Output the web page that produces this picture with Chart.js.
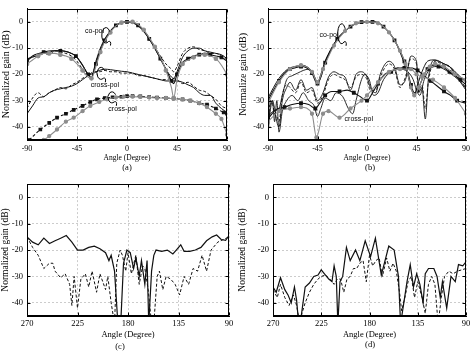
<!DOCTYPE html>
<html><head><meta charset="utf-8">
<script src="https://cdn.jsdelivr.net/npm/chart.js@4/dist/chart.umd.min.js"></script>
<style>
html,body{margin:0;padding:0;background:#fff;width:474px;height:351px;overflow:hidden}
canvas{position:absolute}
</style></head><body>
<canvas id="ca" width="237" height="175" style="left:0;top:0"></canvas>
<canvas id="cb" width="237" height="175" style="left:237px;top:0"></canvas>
<canvas id="cc" width="237" height="176" style="left:0;top:175px"></canvas>
<canvas id="cd" width="237" height="176" style="left:237px;top:175px"></canvas>
<script>
// ---------- tick labels ----------
const ticksAB = [-90, -45, 0, 45, 90];
const ticksCD = [270, 225, 180, 135, 90];
const ticksY = [-40, -30, -20, -10, 0];

// ---------- panel (a) ----------
const aCoSolidX = [-90,-85,-80,-75,-70,-65,-60,-55,-50,-45,-40,-35,-32,-28,-24,-20,-15,-10,-5,0,5,10,15,20,25,30,35,40,42,45,50,55,60,65,70,75,80,85,90];
const aCoSolidY = [-14,-13.5,-12.5,-12,-11.5,-11,-11,-11.3,-12,-13.5,-16.5,-20,-21,-15,-10,-6.5,-3.5,-1.5,-0.3,0,-0.3,-1.5,-3.5,-6.5,-10,-14,-18,-21,-21.5,-19,-13.5,-11,-10,-10,-11,-11.5,-12,-12.5,-14];
const aCoDashY  = [-16,-13,-13.5,-12,-12.5,-11,-11.5,-12,-13,-15,-18,-20.5,-21,-15.5,-10.5,-7,-3.8,-1.6,-0.3,0,-0.2,-1.2,-3.2,-6,-9.5,-13,-16,-18,-19,-17,-12,-10,-9.5,-10.5,-11,-12,-12,-13,-14.5];
const aCoCirY   = [-16,-14.5,-13,-12,-12,-12,-12.5,-13,-14,-16,-18.5,-21,-21.5,-17,-11.5,-7.5,-4,-1.5,-0.3,0,0,-1,-3,-6,-9.5,-13.5,-18.5,-25,-29,-22,-16,-14.5,-13.5,-12.5,-12.5,-13,-14,-16.5,-20];
const aCoSqX = [-90,-83,-75,-68,-60,-53,-46,-40,-35,-32,-28,-24,-20,-15,-10,-5,0,5,10,15,20,25,30,35,40,42,45,50,55,60,65,70,75,80,85,90];
const aCoSqY = [-14.5,-12.5,-11.5,-11,-11,-11.5,-13,-16.5,-20,-21,-16,-11,-7,-3.5,-1.3,-0.3,0,-0.3,-1.3,-3.5,-6.5,-10,-14,-18,-22.5,-23.5,-20,-15.5,-14,-13,-12.5,-12,-12.5,-13,-13.5,-15];
const aXpolX = [-90,-85,-80,-75,-70,-65,-60,-55,-50,-45,-40,-35,-30,-25,-20,-15,-10,-5,0,5,10,15,20,25,30,35,40,45,50,55,60,65,70,75,80,85,90];
const aXSolidY = [-35,-32,-29,-28.5,-27,-26,-25.5,-25,-24.5,-23.5,-22,-20.5,-19.5,-18.5,-18,-18.2,-18.5,-18.8,-19,-19.5,-20,-20.5,-21,-21.5,-22,-22.5,-22.5,-22.5,-23,-24,-25,-27,-28,-28,-31,-33,-34.5];
const aXDashY  = [-33,-29,-27,-28.5,-27,-26,-25,-25.5,-24,-23,-21.5,-20.5,-19,-19,-18.5,-19,-19,-19.5,-19.5,-19.5,-20.5,-20.5,-21,-21.5,-22,-22,-21.5,-22,-23.5,-23,-24.5,-26,-26.5,-28,-29.5,-32,-33];
const aXSqX = [-88,-78,-70,-63,-55,-48,-40,-33,-27,-20,-13,-5,0,5,12,20,27,35,42,50,57,65,72,80,87,90];
const aXSqY = [-45,-41,-38.5,-36.5,-35,-33.5,-32,-30.5,-29.5,-29,-28.7,-28.5,-28.3,-28.3,-28.4,-28.6,-28.8,-29,-29.2,-29.5,-30,-31,-31.5,-33,-34.5,-35];
const aXCirX = [-75,-70,-63,-55,-48,-40,-33,-25,-18,-10,-3,5,12,20,27,35,42,50,57,65,72,80,85,90];
const aXCirY = [-45,-43.5,-41,-38,-36.5,-34,-32,-30.5,-29.5,-28.8,-28.5,-28.5,-28.6,-28.8,-29,-29,-29.3,-29.5,-30,-31,-32.5,-35,-37,-43];

// ---------- panel (b) ----------
const bCoX = [-90,-85,-80,-75,-70,-65,-60,-55,-50,-47,-45,-42,-38,-33,-27,-20,-15,-10,-5,0,5,10,15,20,25,30,34,37,40,43,46,50,55,60,65,70,75,80,85,90];
const bCoSqY    = [-30,-26,-22.5,-19.5,-18,-17.5,-17,-17.5,-19.5,-22.5,-23.5,-21,-15.5,-11,-6.5,-3.5,-1.8,-0.7,-0.1,0,0,-0.3,-1.8,-4,-7,-11,-15,-19,-24,-27,-26,-22,-18,-16.5,-17,-17.5,-19,-20.5,-22,-24];
const bCoSolidY = [-29,-25,-21.5,-19,-17.5,-17,-16.5,-17,-19,-22,-23,-20,-15,-10.5,-6.5,-3.5,-1.8,-0.6,-0.1,0,0,-0.3,-1.8,-4,-7,-11.5,-16,-20,-25,-28,-24,-19,-15,-14.5,-15,-16,-17,-19,-21,-23];
const bCoCirX = [-90,-80,-70,-60,-50,-45,-40,-30,-20,-10,0,10,20,30,35,40,43,47,52,57,62,70,80,90];
const bCoCirY = [-31,-23,-18,-16.5,-19,-23,-18,-9,-3.5,-0.5,0,-0.5,-4,-11,-16,-25,-28,-25,-20,-17,-16,-17,-20,-22];
const bCo2X = [-90,-85,-80,-77,-73,-68,-63,-58,-53,-50,-47,-45,-42,-38,-33];
const bCo2Y = [-36,-34,-33,-28,-22,-20.5,-19.5,-18.5,-18,-19,-21.5,-23.5,-21,-15,-11];
const bXOscX = [-90,-88,-86,-84,-82,-80,-77,-73,-70,-65,-60,-55,-50,-45,-40,-35,-30,-25,-20,-15,-10,-5,0,3,8,12,20,25,30,35,40,45,47,50,53,56,62,70,75,80,90];
const bXOscY = [-44,-32,-30,-33,-38,-40,-30,-25,-23,-26,-22,-26,-25,-30,-27,-21,-19,-20,-21,-26,-20,-19,-21,-25,-27,-20,-15,-17,-24,-22,-13,-15,-27,-25,-37,-21,-14.5,-16,-17,-20,-26];
const bXDashY = [-42,-30,-31,-35,-36,-38,-28,-24,-25,-27,-23,-27,-26,-31,-28,-22,-20,-21,-22,-25,-21,-20,-22,-26,-26,-21,-16,-18,-25,-21,-14,-16,-26,-24,-33,-22,-15,-16.5,-17,-19,-25.5];
const bXSqX = [-90,-83,-75,-68,-60,-53,-47,-43,-38,-32,-25,-18,-12,-6,0,5,10,16,22,28,34,40,46,52,58,64,70,76,82,90];
const bXSqY = [-37,-33.5,-32.5,-31.5,-31,-31.5,-33,-31,-28,-26.5,-26.5,-26,-27,-28.5,-30,-27,-23.5,-20,-19,-17.5,-17.5,-17.5,-18.5,-20.5,-22.5,-24.5,-26.5,-28,-30,-31];
const bXCirX = [-90,-80,-70,-60,-50,-46,-40,-35,-25,-15,-5,0,10,20,30,40,45,50,60,70,80,90];
const bXCirY = [-38,-34,-33,-32.5,-35,-44,-35,-34,-36.5,-33,-30,-28,-23,-19,-18,-18,-20,-21,-22,-25,-29,-35];
const bXMidX = [-90,-88,-86,-84,-82,-80,-77,-73,-68,-63,-58,-53,-48,-45,-42,-38,-33,-28,-22,-17,-13,-10,-5,-2,2,6,10,15,22,30,37,42,45,48,52,57,63,70,77,83,90];
const bXMidY = [-41,-34,-30,-38,-30,-42,-34,-30,-28,-30,-27,-30,-32,-36,-33,-29,-30,-27,-28.5,-33,-35,-30,-22,-20,-22,-28,-27,-22,-19,-18,-19,-22,-26,-28,-22,-18,-17,-18,-20,-22,-25];

// ---------- panel (c) ----------
const cSolidX = [270,265,260,255,250,245,240,235,230,225,220,215,210,205,200,197,195,192,189,186.5,184,181,178,175,173,170,168,165,163,161.5,159,157,155,150,145,140,137,133,130,125,120,115,110,105,101,97,93,90];
const cSolidY = [-15,-17,-18,-15.5,-17.5,-16.5,-15.5,-14.5,-17,-20,-20,-19,-18.5,-19.5,-21,-24,-22,-28,-48,-48,-25,-20,-21,-27,-23,-30,-24,-33,-24,-48,-28,-22,-20,-20.5,-20,-21.5,-20,-18,-20.5,-20.5,-20,-19,-16.5,-15,-14.3,-16,-16.3,-14.5];
const cDashX = [270,265,260,255,250,247,245,240,236,232,230,228,225,222,218,215,212,208,205,200,198,195,192,190,187,185,182,180,177,173,170,167,165,162,159,157,154,152,149,146,142,138,134,130,126,122,118,114,110,106,100,95,90];
const cDashY = [-15,-19,-22,-27,-25,-25,-28,-30.5,-29,-33,-41,-30,-42,-31,-29,-34,-28,-36,-29,-35,-30,-40,-48,-25,-20,-22,-28,-21,-29,-22,-33,-26,-27,-35,-48,-48,-30,-28,-35,-30,-31,-33,-37,-30,-33,-27,-28,-22,-28,-20,-17,-16,-15];

// ---------- panel (d) ----------
const dSolidX = [270,267,263,259,256,253,250,248,246,244,240,236,232,228,225,222,218,215,213,211,209.5,207.5,205,201.5,198,193,189,184,179,174.5,169,162,157,153,151,148,145,142,139,136,133,130,128,125,120,117,114,112,108,104,100,97,93,90];
const dSolidY = [-34,-36,-30.5,-35,-37,-40,-34,-39,-48,-46,-34,-32.5,-30,-29.5,-27.5,-29,-31,-32,-26,-30,-48,-32,-30,-19,-24,-20,-24,-16.5,-22.5,-15.5,-29.5,-18.5,-20,-30,-48,-40,-32,-25.5,-34,-29,-33,-40,-29,-27,-27,-30,-38,-32,-42,-30,-32,-25.5,-26,-24.5];
const dDashX = [270,266,263,259,255,251,248,245,243,240,236,232,228,225,221,217,213,210,207,204,201,198,195,192,189,186,183,180,177,174,171,168,164,161,158,155,152,150,147,144,141,138,135,131,128,125,122,119,116,113,110,106,102,98,94,90];
const dDashY = [-35,-38,-33,-38,-41,-37,-41,-48,-44,-40,-36,-33,-31,-30,-29.5,-31,-33,-31,-31,-36,-31,-30,-27,-27,-25,-24,-32,-22,-26,-24,-23,-30,-23,-28,-25,-28,-36,-43,-38,-32,-30,-38,-32,-38,-44,-33,-30,-33,-48,-38,-30,-28,-29,-28,-27.5,-27];

// ---------- styling ----------
const BLACK = '#111';
const GRAY = '#8c8c8c';
const GRID = '#cccccc';
const SERIF = "'Liberation Serif', 'Times New Roman', serif";
const SANS = "'Liberation Sans', Arial, sans-serif";

function line(xs, ys, o) {
  return Object.assign({
    data: xs.map((x, i) => ({x: x, y: ys[i]})),
    showLine: true, borderColor: BLACK, backgroundColor: BLACK, borderWidth: 1,
    pointRadius: 0, fill: false, cubicInterpolationMode: 'monotone'
  }, o || {});
}
const everyOther = r => (c => (c.dataIndex % 2 === 0 ? r : 0));
const grayCirc = {borderColor: GRAY, backgroundColor: GRAY, pointRadius: everyOther(1.8), pointStyle: 'circle', pointBorderColor: GRAY, pointBackgroundColor: GRAY, borderWidth: 1.1};
const grayCircAll = Object.assign({}, grayCirc, {pointRadius: 1.6});
const blackSq = {pointRadius: everyOther(1.9), pointStyle: 'rect', pointBackgroundColor: BLACK, pointBorderColor: BLACK, borderWidth: 1.1};
const blackSqAll = Object.assign({}, blackSq, {pointRadius: 1.8});
const dashed = {borderDash: [3, 2]};

const framePlugin = {
  id: 'frame',
  afterDraw(chart, args, o) {
    const ctx = chart.ctx, a = chart.chartArea, xs = chart.scales.x, ys = chart.scales.y;
    ctx.save();
    ctx.strokeStyle = '#000';
    ctx.lineWidth = 1;
    const L = Math.round(a.left) + 0.5, T = Math.round(a.top) + 0.5, R = Math.round(a.right) - 0.5, B = Math.round(a.bottom) - 0.5;
    ctx.strokeRect(L, T, R - L, B - T);
    ctx.beginPath();
    xs.ticks.forEach(t => {
      const px = Math.round(xs.getPixelForValue(t.value)) + 0.5;
      ctx.moveTo(px, B); ctx.lineTo(px, B - 3);
      ctx.moveTo(px, T); ctx.lineTo(px, T + 3);
    });
    ys.ticks.forEach(t => {
      const py = Math.round(ys.getPixelForValue(t.value)) + 0.5;
      ctx.moveTo(L, py); ctx.lineTo(L + 3, py);
      ctx.moveTo(R, py); ctx.lineTo(R - 3, py);
    });
    ctx.stroke();
    // annotations
    ctx.fillStyle = '#000';
    ctx.font = '7px ' + SANS;
    ctx.textBaseline = 'middle';
    ctx.textAlign = 'left';
    (o.notes || []).forEach(n => {
      const px = xs.getPixelForValue(n.x), py = ys.getPixelForValue(n.y);
      if (n.text) {
        ctx.fillText(n.text, px, py);
      } else {
        ctx.beginPath();
        ctx.ellipse(px, py, n.rx, n.ry, 0, 0.3 * Math.PI, 1.85 * Math.PI);
        ctx.stroke();
        ctx.beginPath();
        const sx = px + n.rx * Math.cos(0.3 * Math.PI), sy = py + n.ry * Math.sin(0.3 * Math.PI);
        ctx.moveTo(sx, sy);
        ctx.quadraticCurveTo(sx + 3, sy - 1, sx + 2, sy + 4);
        ctx.stroke();
      }
    });
    ctx.font = (o.lsize || 8.5) + 'px ' + SERIF;
    ctx.textAlign = 'center';
    ctx.fillText(o.label, o.lx, o.ly);
    ctx.restore();
  }
};

function panel(id, c) {
  return new Chart(document.getElementById(id), {
    type: 'scatter',
    data: {datasets: c.datasets},
    options: {
      responsive: false, animation: false, events: [],
      layout: {padding: {left: 0, top: c.top, right: c.right, bottom: 0}},
      plugins: {legend: {display: false}, tooltip: {enabled: false}, frame: c.frame},
      scales: {
        x: {
          type: 'linear', min: c.xmin, max: c.xmax, reverse: !!c.reverse,
          afterBuildTicks: s => { s.ticks = c.xticks.map(v => ({value: v})); },
          afterFit: s => { s.height = c.xh; },
          grid: {color: GRID, drawTicks: false},
          border: {display: true, color: '#000', dash: [2, 2]},
          ticks: {color: '#000', font: {family: SERIF, size: c.tf}, padding: c.xpad, maxRotation: 0, autoSkip: false},
          title: {display: true, text: 'Angle (Degree)', color: '#000', font: {family: SERIF, size: c.xtf}, padding: {top: 0, bottom: c.xtpad}}
        },
        y: {
          type: 'linear', min: -45, max: 5,
          afterBuildTicks: s => { s.ticks = ticksY.map(v => ({value: v})); },
          afterFit: s => { s.width = c.yw; },
          grid: {color: GRID, drawTicks: false},
          border: {display: true, color: '#000', dash: [2, 2]},
          ticks: {color: '#000', font: {family: SERIF, size: c.tf}, padding: 4},
          title: {display: true, text: c.ytitle, color: '#000', font: {family: SERIF, size: c.ytf}, padding: {top: 0, bottom: 0}}
        }
      }
    },
    plugins: [framePlugin]
  });
}

panel('ca', {
  top: 0, right: 10, yw: 27, xh: 35, xmin: -90, xmax: 90, xticks: ticksAB,
  tf: 8, xtf: 7.5, ytf: 10, xpad: 4, xtpad: 12.5, ytitle: 'Normalized gain (dB)',
  datasets: [
    line(aCoSolidX, aCoCirY, grayCirc),
    line(aXCirX, aXCirY, grayCircAll),
    line(aCoSolidX, aCoDashY, dashed),
    line(aXpolX, aXDashY, dashed),
    line(aCoSolidX, aCoSolidY, {}),
    line(aXpolX, aXSolidY, {}),
    line(aCoSqX, aCoSqY, blackSq),
    line(aXSqX, aXSqY, Object.assign({}, blackSqAll, dashed))
  ],
  frame: {label: '(a)', lx: 127, ly: 168, notes: [
    {text: 'co-pol', x: -37.8, y: -3.6},
    {x: -18.9, y: -5.1, rx: 4.2, ry: 7.7},
    {text: 'cross-pol', x: -32.7, y: -24.2},
    {x: -23.4, y: -19.6, rx: 4, ry: 6},
    {text: 'cross-pol', x: -16.8, y: -33.3},
    {x: -13.5, y: -28.75, rx: 4, ry: 5.5}
  ]}
});

panel('cb', {
  top: 0, right: 5, yw: 31, xh: 35, xmin: -90, xmax: 90, xticks: ticksAB,
  tf: 8, xtf: 7.5, ytf: 10, xpad: 4, xtpad: 12.5, ytitle: 'Normalize gain (dB)',
  datasets: [
    line(bCoCirX, bCoCirY, grayCircAll),
    line(bXCirX, bXCirY, grayCircAll),
    line(bXOscX, bXDashY, Object.assign({}, dashed, {borderWidth: 0.9})),
    line(bXOscX, bXOscY, {borderWidth: 0.9}),
    line(bXMidX, bXMidY, {borderWidth: 0.9}),
    line(bCo2X, bCo2Y, {borderWidth: 0.9}),
    line(bCoX, bCoSolidY, {}),
    line(bCoX, bCoSqY, blackSq),
    line(bXSqX, bXSqY, blackSq)
  ],
  frame: {label: '(b)', lx: 133, ly: 168, notes: [
    {text: 'co-pol', x: -43.2, y: -5.1},
    {x: -23.0, y: -4.5, rx: 4, ry: 10},
    {text: 'cross-pol', x: -20.4, y: -36.9}
  ]}
});

panel('cc', {
  top: 3, right: 8, yw: 27, xh: 35, xmin: 90, xmax: 270, reverse: true, xticks: ticksCD,
  tf: 8.5, xtf: 8.5, ytf: 9.5, xpad: 3, xtpad: 11, ytitle: 'Normalized gain (dB)',
  datasets: [
    line(cDashX, cDashY, Object.assign({}, dashed, {cubicInterpolationMode: 'default', tension: 0})),
    line(cSolidX, cSolidY, {borderWidth: 1.2, cubicInterpolationMode: 'default', tension: 0})
  ],
  frame: {label: '(c)', lx: 120, ly: 172, notes: []}
});

panel('cd', {
  top: 3, right: 8, yw: 36, xh: 35, xmin: 90, xmax: 270, reverse: true, xticks: ticksCD,
  tf: 8.5, xtf: 8.5, ytf: 9.5, xpad: 3, xtpad: 11, ytitle: 'Normalized gain (dB)',
  datasets: [
    line(dDashX, dDashY, Object.assign({}, dashed, {cubicInterpolationMode: 'default', tension: 0})),
    line(dSolidX, dSolidY, {borderWidth: 1.2, cubicInterpolationMode: 'default', tension: 0})
  ],
  frame: {label: '(d)', lx: 133, ly: 170, notes: []}
});
</script>
</body></html>
